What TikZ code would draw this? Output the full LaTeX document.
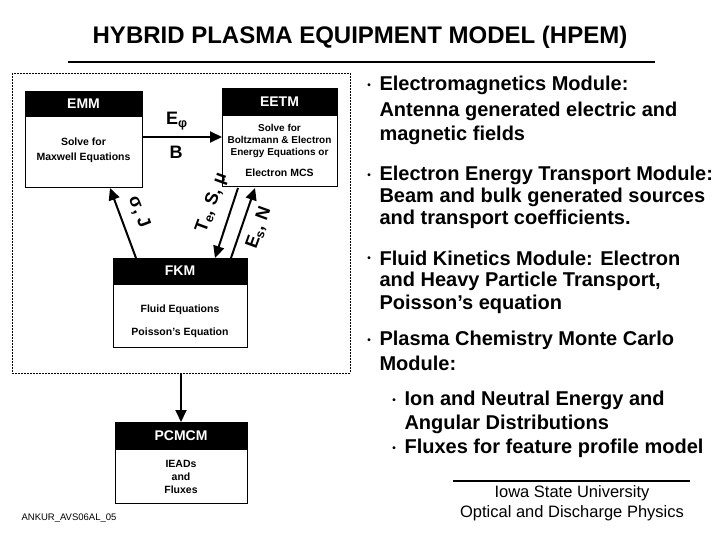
\documentclass[tikz,border=0pt]{standalone}
\usepackage{fontspec}
\setmainfont{Liberation Sans}
\usetikzlibrary{arrows.meta}
\begin{document}
\begin{tikzpicture}[x=1pt,y=-1pt,
  box/.style={draw,line width=1pt,fill=white},
  hdr/.style={fill=black},
  htxt/.style={text=white,font=\bfseries\fontsize{14}{16}\selectfont},
  btxt/.style={font=\bfseries\fontsize{10.5}{15}\selectfont,align=center},
  arr/.style={line width=2pt,-{Triangle[length=12pt,width=11pt]}},
  lbl/.style={font=\bfseries\fontsize{18}{20}\selectfont},
  rt/.style={anchor=west,font=\bfseries\fontsize{20}{20}\selectfont},
  bul/.style={font=\bfseries\fontsize{10}{10}\selectfont}]
\useasboundingbox (0,0) rectangle (720,540);
\node[font=\bfseries\fontsize{24}{28}\selectfont] (title) at (360,37) {HYBRID PLASMA EQUIPMENT MODEL (HPEM)};
\draw[line width=2.5pt] (68,62) -- (655,62);
\draw[line width=0.6pt,dash pattern=on 2pt off 1pt] (12,73) rectangle (350,373);
% EMM
\draw[box] (25,92) rectangle (142,188);
\fill[hdr] (25,92) rectangle (142,117);
\node[htxt] (emmh) at (83.5,104) {EMM};
\node[btxt] (emm) at (83.5,150) {Solve for\\Maxwell Equations};
\coordinate (emmb) at (110,188);
% EETM
\draw[box] (222,89) rectangle (337,187);
\fill[hdr] (222,89) rectangle (337,116);
\node[htxt] (eetmh) at (279.5,102) {EETM};
\node[btxt,font=\bfseries\fontsize{10}{12}\selectfont] (eetm) at (279.5,141) {Solve for\\Boltzmann \& Electron\\Energy Equations or};
\node[btxt] (mcs) at (279.5,173) {Electron MCS};
% FKM
\draw[box] (113,258) rectangle (247,347);
\fill[hdr] (113,258) rectangle (247,285);
\node[htxt] (fkmh) at (180,271) {FKM};
\node[btxt] (fkm1) at (180,310) {Fluid Equations};
\node[btxt] (fkm2) at (180,333) {Poisson’s Equation};
% PCMCM
\draw[box] (115,422) rectangle (247,503);
\fill[hdr] (115,422) rectangle (247,450);
\node[htxt] (pch) at (181,436) {PCMCM};
\node[btxt,font=\bfseries\fontsize{10.5}{13}\selectfont] (pc) at (181,477) {IEADs\\and\\Fluxes};
% arrows
\coordinate (a1) at (142,137); \coordinate (a2) at (222,137);
\draw[arr] (a1) -- (a2);
\node[lbl] (ephi) at (177,121) {E\textsubscript{φ}};
\node[lbl] (bl) at (176,152) {B};
\coordinate (f1) at (136,258);
\draw[arr] (f1) -- (emmb);
\node[lbl,rotate=-69] (sj) at (139,212) {σ, J};
\coordinate (e1) at (238,188); \coordinate (f2) at (215,258);
\draw[arr] (e1) -- (f2);
\coordinate (f3) at (231,258); \coordinate (e2) at (255,188);
\draw[arr] (f3) -- (e2);
\node[lbl,rotate=70] (tsm) at (212,203) {T\textsubscript{e}, S, μ};
\node[lbl,rotate=70] (esn) at (259,228) {E\textsubscript{s}, N};
\coordinate (d1) at (181,373);
\draw[arr] (d1) -- (181,422);
\node[font=\fontsize{9.5}{10}\selectfont] (ank) at (69,518) {ANKUR\_AVS06AL\_05};
% right text
\node[bul] at (369,86) {\textbullet};
\node[rt] at (376,85) {Electromagnetics Module:};
\node[rt] at (376,111) {Antenna generated electric and};
\node[rt] at (376,135) {magnetic fields};
\node[bul] at (369,176) {\textbullet};
\node[rt] at (376,175) {Electron Energy Transport Module:};
\node[rt] at (376,197) {Beam and bulk generated sources};
\node[rt] at (376,219) {and transport coefficients.};
\node[bul] at (369,259) {\textbullet};
\node[rt] at (376,258) {Fluid Kinetics Module: Electron};
\node[rt] at (376,281) {and Heavy Particle Transport,};
\node[rt] at (376,304) {Poisson’s equation};
\node[bul] at (369,341) {\textbullet};
\node[rt] at (376,340) {Plasma Chemistry Monte Carlo};
\node[rt] at (376,363) {Module:};
\node[bul] at (394,401) {\textbullet};
\node[rt] at (401,400) {Ion and Neutral Energy and};
\node[rt] at (401,424) {Angular Distributions};
\node[bul] at (394,449) {\textbullet};
\node[rt] at (401,448) {Fluxes for feature profile model};
\draw[line width=2.5pt] (453,481) -- (690,481);
\node[font=\fontsize{16.5}{18}\selectfont] (isu) at (572,493) {Iowa State University};
\node[font=\fontsize{16.5}{18}\selectfont] (odp) at (572,513) {Optical and Discharge Physics};
\end{tikzpicture}
\end{document}
